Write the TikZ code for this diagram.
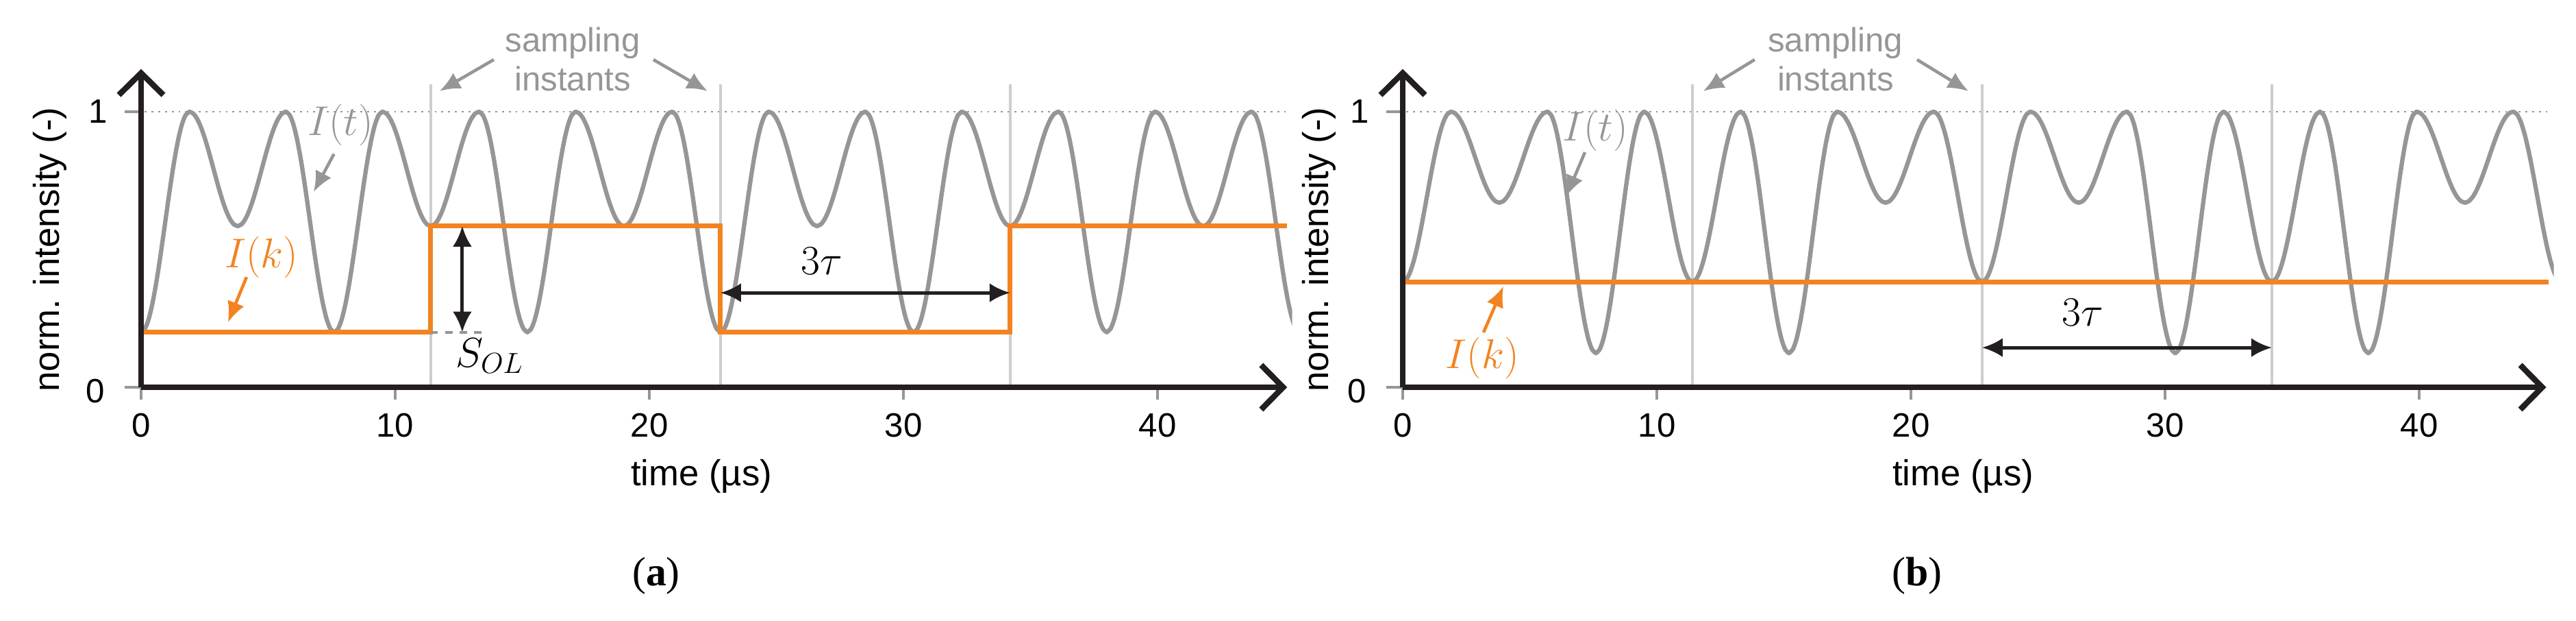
\documentclass[tikz,border=0pt]{standalone}
\usepackage{fontspec}
\setmainfont{Liberation Serif}
\setsansfont{Liberation Sans}
\usetikzlibrary{arrows.meta}
\definecolor{sgray}{RGB}{150,150,150}
\definecolor{lgray}{RGB}{205,205,205}
\definecolor{orng}{RGB}{242,131,32}
\definecolor{axk}{RGB}{35,31,32}
\tikzset{
  sig/.style={sgray,line width=1.8pt,line cap=round},
  axisln/.style={axk,line width=2.4pt,-{Straight Barb[length=3.2mm,width=6.5mm,line width=2.4pt]}},
  samp/.style={lgray,line width=1pt},
  ticklab/.style={font=\sffamily\fontsize{14}{14}\selectfont},
  axlab/.style={font=\sffamily\fontsize{15}{15}\selectfont},
  gann/.style={sgray,line width=1.3pt,-{Latex[length=3mm,width=2.6mm]}},
  oann/.style={orng,line width=1.3pt,-{Latex[length=3mm,width=2.6mm]}},
  dbl/.style={axk,line width=1.4pt,{Latex[length=3mm,width=2.8mm]}-{Latex[length=3mm,width=2.8mm]}},
  sigpath/.style={orng,line width=2pt},
}
\newcommand\sigcurve[2]{%
\foreach \k in {0,...,23}{
  \pgfmathtruncatemacro\odd{mod(\k,2)}
  \pgfmathtruncatemacro\jj{mod(int((\k+\odd)/2),#2)}
  \pgfmathsetmacro\vm{#1[\jj]}
  \pgfmathsetmacro\ta{\k*1.9}
  \pgfmathsetmacro\tb{\k*1.9+1.9}
  \ifnum\odd=1 \def\vs{1}\edef\ve{\vm}\else \edef\vs{\vm}\def\ve{1}\fi
  \draw[sig] plot[domain=\ta:\tb,samples=14,smooth] (\x,{\vs+(\ve-\vs)*(1-cos(180*(\x-\ta)/1.9))/2});
}}
\newcommand\panelframe[1]{%
  \draw[sgray,dotted,line width=0.8pt] (-0.65,1) -- (45.1,1);
  \foreach \t in {11.4,22.8,34.2} \draw[samp] (\t,0) -- (\t,1.10);
  \begin{scope}
    \clip (0,-0.1) rectangle (45.3,1.1);
    #1
  \end{scope}
}
\begin{document}
\begin{tikzpicture}
\useasboundingbox (0,0) rectangle (37.61,9.05);
% ---------- panel a
\begin{scope}[shift={(2.06,3.40)},x=0.371cm,y=4.02cm]
  \panelframe{\sigcurve{{0.2,0.585}}{2}}
  \draw[sigpath] (0,0.585) -- (0,0.2) -- (11.4,0.2) -- (11.4,0.585) -- (22.8,0.585) -- (22.8,0.2) -- (34.2,0.2) -- (34.2,0.585) -- (45.1,0.585);
  \foreach \t in {0,10,20,30,40}{
    \draw[sgray,line width=1pt] (\t,0) -- (\t,-0.045);
    \node[ticklab] (ta\t) at (\t,-0.137) {\t};}
  \draw[sgray,line width=1pt] (-0.65,0) -- (0,0);
  \draw[sgray,line width=1pt] (-0.65,1) -- (0,1);
  \node[ticklab] (ya1) at (-1.7,1) {1};
  \node[ticklab] (ya0) at (-1.8,-0.015) {0};
  \coordinate (oa) at (0,0);
  \coordinate (xa) at (45.1,0);
  \coordinate (ya) at (0,1.155);
  \draw[axisln] (oa) -- (xa);
  \draw[axisln] (oa) -- (ya);
  \node[axlab,rotate=90] (yla) at (-3.58,0.50) {norm. intensity (-)};
  \node[axlab] (xla) at (22.05,-0.323) {time (µs)};
  \node[sgray,align=center,font=\sffamily\fontsize{14}{16.2}\selectfont] (sa) at (16.98,1.19) {sampling\\instants};
  \coordinate (sa1) at (11.75,1.075); \coordinate (sa2) at (22.29,1.075);
  \draw[gann] (13.88,1.189) -- (sa1);
  \draw[gann] (20.16,1.189) -- (sa2);
  \node[sgray,font=\fontsize{17}{17}\selectfont] (ita) at (7.84,0.953) {$I(t)$};
  \coordinate (itae) at (6.79,0.709);
  \draw[gann] (ita.south) ++(-0.25,0) -- (itae);
  \node[orng,font=\fontsize{17}{17}\selectfont] (ika) at (4.74,0.473) {$I(k)$};
  \coordinate (ikae) at (3.42,0.236);
  \draw[oann] (4.15,0.40) -- (ikae);
  \coordinate (d1) at (12.64,0.585); \coordinate (d2) at (12.64,0.2);
  \draw[dbl] (d1) -- (d2);
  \draw[sgray,dashed,line width=1.2pt] (11.4,0.2) -- (13.56,0.2);
  \node[font=\fontsize{17}{17}\selectfont] (sol) at (13.72,0.114) {$S_{OL}$};
  \node[font=\fontsize{17}{17}\selectfont] (ta3) at (26.79,0.458) {$3\tau$};
  \coordinate (h1) at (22.8,0.343); \coordinate (h2) at (34.2,0.343);
  \draw[dbl] (h1) -- (h2);
  \node[font=\fontsize{17}{17}\selectfont] (capa) at (20.27,-0.684) {(\textbf{a})};
\end{scope}
% ---------- panel b
\begin{scope}[shift={(20.48,3.40)},x=0.371cm,y=4.02cm]
  \panelframe{\sigcurve{{0.383,0.67,0.124,0.383,0.124,0.67}}{6}}
  \draw[sigpath] (0,0.383) -- (45.1,0.383);
  \foreach \t in {0,10,20,30,40}{
    \draw[sgray,line width=1pt] (\t,0) -- (\t,-0.045);
    \node[ticklab] (tb\t) at (\t,-0.137) {\t};}
  \draw[sgray,line width=1pt] (-0.65,0) -- (0,0);
  \draw[sgray,line width=1pt] (-0.65,1) -- (0,1);
  \node[ticklab] (yb1) at (-1.7,1) {1};
  \node[ticklab] (yb0) at (-1.8,-0.015) {0};
  \coordinate (ob) at (0,0);
  \coordinate (xb) at (45.0,0);
  \coordinate (yb) at (0,1.155);
  \draw[axisln] (ob) -- (xb);
  \draw[axisln] (ob) -- (yb);
  \node[axlab,rotate=90] (ylb) at (-3.30,0.50) {norm. intensity (-)};
  \node[axlab] (xlb) at (22.05,-0.323) {time (µs)};
  \node[sgray,align=center,font=\sffamily\fontsize{14}{16.2}\selectfont] (sb) at (17.03,1.19) {sampling\\instants};
  \coordinate (sb1) at (11.83,1.075); \coordinate (sb2) at (22.26,1.075);
  \draw[gann] (13.85,1.189) -- (sb1);
  \draw[gann] (20.24,1.189) -- (sb2);
  \node[sgray,font=\fontsize{17}{17}\selectfont] (itb) at (7.57,0.933) {$I(t)$};
  \coordinate (itbe) at (6.44,0.694);
  \draw[gann] (7.17,0.853) -- (itbe);
  \node[orng,font=\fontsize{17}{17}\selectfont] (ikb) at (3.13,0.107) {$I(k)$};
  \coordinate (ikbe) at (3.96,0.366);
  \draw[oann] (3.18,0.199) -- (ikbe);
  \node[font=\fontsize{17}{17}\selectfont] (tb3) at (26.77,0.271) {$3\tau$};
  \coordinate (hb1) at (22.8,0.144); \coordinate (hb2) at (34.2,0.144);
  \draw[dbl] (hb1) -- (hb2);
  \node[font=\fontsize{17}{17}\selectfont] (capb) at (20.24,-0.684) {(\textbf{b})};
\end{scope}
\end{tikzpicture}
\end{document}
